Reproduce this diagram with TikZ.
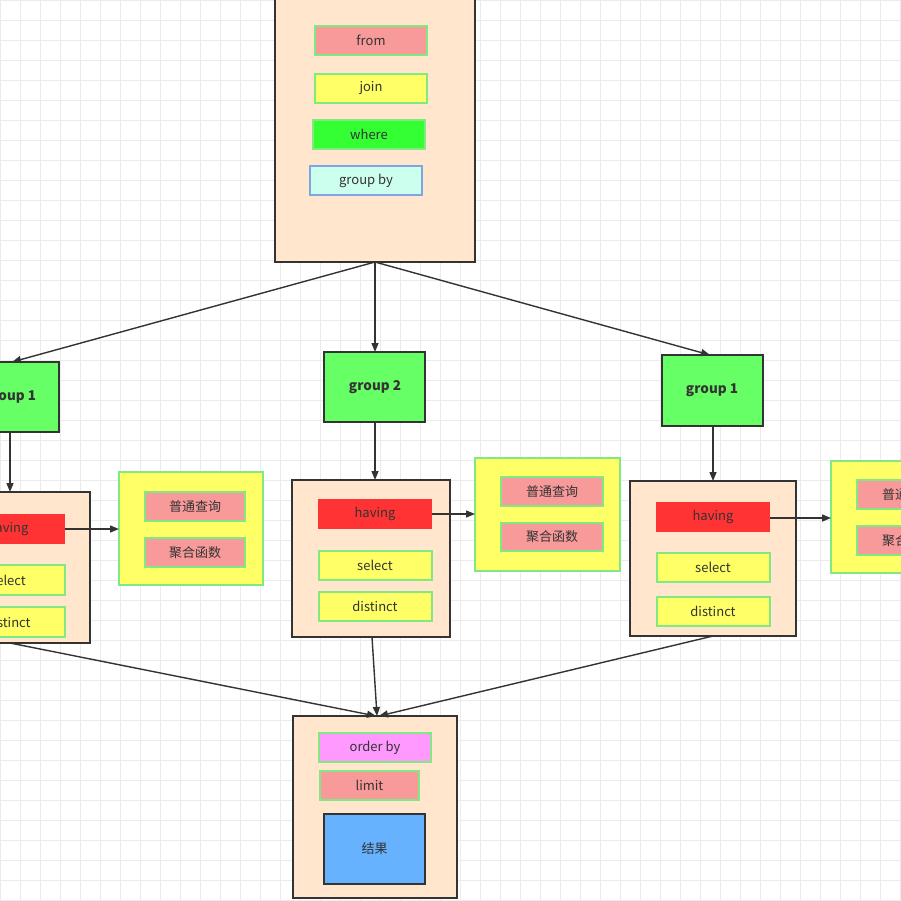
\documentclass[tikz,border=0pt]{standalone}
\usepackage{fontspec}
\setmainfont{Noto Sans CJK SC}
\usetikzlibrary{arrows.meta}
\definecolor{peach}{HTML}{FFE6CC}
\definecolor{lred}{HTML}{F89A9A}
\definecolor{yel}{HTML}{FFFF66}
\definecolor{gbord}{HTML}{82E882}
\definecolor{grn}{HTML}{66FF66}
\definecolor{where}{HTML}{33FF33}
\definecolor{cyan2}{HTML}{CCFFEE}
\definecolor{bbord}{HTML}{7EA6E0}
\definecolor{red2}{HTML}{FF3333}
\definecolor{pink2}{HTML}{FF99FF}
\definecolor{blue2}{HTML}{66B2FF}
\definecolor{dk}{HTML}{333333}
\begin{document}
\begin{tikzpicture}[x=1pt,y=-1pt,
  panel/.style={draw=dk,line width=1.4pt,fill=peach},
  box/.style={draw=gbord,line width=1.6pt},
  lbl/.style={font=\fontsize{13}{15}\selectfont,text=dk},
  grp/.style={draw=dk,line width=1.4pt,fill=grn},
  glbl/.style={font=\bfseries\fontsize{13.5}{15}\selectfont,text=dk},
  side/.style={draw=gbord,line width=1.6pt,fill=yel},
  arr/.style={draw=dk,line width=1.4pt,-{Triangle[length=9pt,width=7pt]}}]
\useasboundingbox (0,0) rectangle (900,901);
\fill[white] (0,0) rectangle (900,901);
\foreach \i in {0,20,...,900}{\draw[black!8,line width=0.6pt] (\i,0)--(\i,901); \draw[black!8,line width=0.6pt] (0,\i)--(900,\i);}
% top
\draw[panel] (275,-5) rectangle (475,262);
\path[box,fill=lred] (315,26) rectangle (427,55); \node[lbl] (from) at (371,40.5){from};
\path[box,fill=yel] (315,74) rectangle (427,103); \node[lbl] (join) at (371,88.5){join};
\path[box,fill=where] (313,120) rectangle (425,149); \node[lbl] (where) at (369,134.5){where};
\path[box,fill=cyan2,draw=bbord] (310,166) rectangle (422,195); \node[lbl] (gb) at (366,180.5){group by};
\coordinate (topb) at (375,262);
% groups
\path[grp] (-40,362) rectangle (59,432); \node[glbl] (g1) at (10,397){group 1};
\path[grp] (324,352) rectangle (425,422); \node[glbl] (g2) at (375,387){group 2};
\path[grp] (662,355) rectangle (763,426); \node[glbl] (g3) at (712,390){group 1};
\draw[arr] (topb)--(12,362);
\draw[arr] (topb)--(375,352);
\draw[arr] (topb)--(710,355);
% panels
\draw[panel] (-70,492) rectangle (90,643);
\fill[red2] (-50,514) rectangle (65,544); \node[lbl] (h1) at (8,529){having};
\path[box,fill=yel] (-50,565) rectangle (65,595); \node[lbl] (s1) at (8,580){select};
\path[box,fill=yel] (-50,607) rectangle (65,637); \node[lbl] (d1) at (8,622){distinct};
\draw[panel] (292,480) rectangle (450,637);
\fill[red2] (318,499) rectangle (432,529); \node[lbl] (h2) at (375,514){having};
\path[box,fill=yel] (319,551) rectangle (432,580); \node[lbl] (s2) at (375,565){select};
\path[box,fill=yel] (319,592) rectangle (432,621); \node[lbl] (d2) at (375,606){distinct};
\draw[panel] (630,481) rectangle (796,636);
\fill[red2] (656,502) rectangle (770,532); \node[lbl] (h3) at (713,517){having};
\path[box,fill=yel] (657,553) rectangle (770,582); \node[lbl] (s3) at (713,567){select};
\path[box,fill=yel] (657,597) rectangle (770,626); \node[lbl] (d3) at (713,611){distinct};
\draw[arr] (10,432)--(10,492);
\draw[arr] (375,422)--(375,480);
\draw[arr] (713,426)--(713,481);
% side boxes
\path[side] (119,472) rectangle (263,585);
\path[box,fill=lred] (145,492) rectangle (245,521); \node[lbl] (a1) at (195,506.5){普通查询};
\path[box,fill=lred] (145,538) rectangle (245,567); \node[lbl] (b1) at (195,552.5){聚合函数};
\path[side] (475,458) rectangle (620,571);
\path[box,fill=lred] (501,477) rectangle (603,506); \node[lbl] (a2) at (552,491.5){普通查询};
\path[box,fill=lred] (501,523) rectangle (603,551); \node[lbl] (b2) at (552,537){聚合函数};
\path[side] (831,461) rectangle (960,573);
\path[box,fill=lred] (857,480) rectangle (960,509); \node[lbl] (a3) at (908,494.5){普通查询};
\path[box,fill=lred] (857,526) rectangle (960,555); \node[lbl] (b3) at (908,540.5){聚合函数};
\draw[arr] (65,529)--(119,529);
\draw[arr] (432,514)--(475,514);
\draw[arr] (770,518)--(831,518);
% bottom
\draw[panel] (293,716) rectangle (457,898);
\path[box,fill=pink2] (319,733) rectangle (431,762); \node[lbl] (ob) at (375,747.5){order by};
\path[box,fill=lred] (320,771) rectangle (419,800); \node[lbl] (lim) at (369.5,785.5){limit};
\path[draw=dk,line width=1.4pt,fill=blue2] (324,814) rectangle (425,884); \node[lbl] (res) at (374.5,849){结果};
\draw[arr] (10,643)--(376,716);
\draw[arr] (372,637)--(377,716);
\draw[arr] (713,636)--(379,716);
\end{tikzpicture}
\end{document}
